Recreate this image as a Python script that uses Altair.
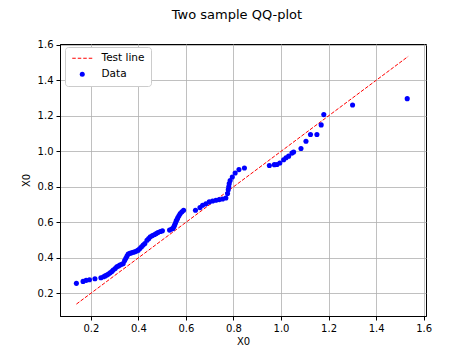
import altair as alt
import pandas as pd

x_vals = [0.139, 0.167, 0.180, 0.194, 0.217, 0.242, 0.253, 0.260, 0.267, 0.274,
          0.281, 0.288, 0.294, 0.302, 0.309, 0.316, 0.322, 0.330, 0.336, 0.342,
          0.347, 0.352, 0.357, 0.364, 0.371, 0.378, 0.385, 0.392, 0.399, 0.406,
          0.413, 0.420, 0.427, 0.436, 0.443, 0.450, 0.459, 0.468, 0.475, 0.482,
          0.492, 0.501, 0.531, 0.540, 0.545, 0.549, 0.552, 0.556, 0.559, 0.563,
          0.566, 0.571, 0.576, 0.583, 0.590, 0.640, 0.659, 0.670, 0.684, 0.698,
          0.712, 0.726, 0.740, 0.754, 0.768, 0.775, 0.778, 0.780, 0.782, 0.786,
          0.795, 0.807, 0.823, 0.846, 0.951, 0.972, 0.983, 0.995, 1.011, 1.021,
          1.032, 1.046, 1.053, 1.084, 1.105, 1.124, 1.151, 1.169, 1.180, 1.301,
          1.531]
y_vals = [0.256, 0.267, 0.273, 0.276, 0.282, 0.288, 0.293, 0.298, 0.303, 0.309,
          0.316, 0.323, 0.331, 0.340, 0.349, 0.354, 0.359, 0.364, 0.368, 0.385,
          0.397, 0.410, 0.421, 0.425, 0.428, 0.431, 0.434, 0.438, 0.443, 0.452,
          0.462, 0.472, 0.481, 0.499, 0.508, 0.518, 0.525, 0.531, 0.537, 0.543,
          0.548, 0.552, 0.556, 0.562, 0.565, 0.575, 0.584, 0.596, 0.608, 0.617,
          0.627, 0.638, 0.649, 0.659, 0.668, 0.668, 0.683, 0.696, 0.704, 0.715,
          0.720, 0.724, 0.728, 0.731, 0.737, 0.762, 0.784, 0.800, 0.818, 0.836,
          0.855, 0.878, 0.897, 0.906, 0.920, 0.925, 0.926, 0.934, 0.953, 0.964,
          0.973, 0.990, 0.996, 1.016, 1.057, 1.095, 1.095, 1.149, 1.207, 1.261,
          1.297]

line_x = [0.139, 1.535]
line_y = [0.139, 1.535]

ticks = [0.2, 0.4, 0.6, 0.8, 1.0, 1.2, 1.4, 1.6]
series_names = ["Test line", "Data"]

pts = pd.DataFrame({"x": x_vals, "y": y_vals, "series": "Data"})
ln = pd.DataFrame({"x": line_x, "y": line_y, "series": "Test line"})

dash_path = ("M-4,-0.2H-2.6V0.2H-4Z M-1.8,-0.2H-0.4V0.2H-1.8Z "
             "M0.4,-0.2H1.8V0.2H0.4Z M2.6,-0.2H4V0.2H2.6Z")

xs = alt.Scale(domain=[0.07, 1.61], nice=False, zero=False)
ys = alt.Scale(domain=[0.072, 1.605], nice=False, zero=False)

xax = alt.Axis(values=ticks, format=".1f", title="X0", grid=True, labelOverlap=False)
yax = alt.Axis(values=ticks, format=".1f", title="X0", grid=True, labelOverlap=False)

color_scale = alt.Scale(domain=series_names, range=["#ff0000", "#0000ff"])
shape_scale = alt.Scale(domain=series_names, range=[dash_path, "circle"])

legend = alt.Legend(
    title=None, orient="none", legendX=5, legendY=3,
    fillColor="white", strokeColor="#cccccc", cornerRadius=3, padding=6,
    labelFontSize=10.5, labelColor="black", symbolSize=25, labelOffset=14,
    rowPadding=5, symbolStrokeWidth=0, symbolOffset=6,
)

line = alt.Chart(ln).mark_line(strokeWidth=1, strokeDash=[3.7, 1.6]).encode(
    x=alt.X("x:Q", scale=xs, axis=xax),
    y=alt.Y("y:Q", scale=ys, axis=yax),
    color=alt.Color("series:N", scale=color_scale, legend=legend),
)

points = alt.Chart(pts).mark_point(filled=True, size=26, opacity=1).encode(
    x=alt.X("x:Q", scale=xs, axis=xax),
    y=alt.Y("y:Q", scale=ys, axis=yax),
    color=alt.Color("series:N", scale=color_scale, legend=legend),
    shape=alt.Shape("series:N", scale=shape_scale, legend=legend),
)

chart = alt.layer(line, points).properties(
    width=366, height=272,
    title=alt.TitleParams("Two sample QQ-plot", anchor="middle", dx=-6,
                          frame="group", offset=18, fontSize=13,
                          fontWeight="normal", font="DejaVu Sans", color="black"),
    autosize=alt.AutoSizeParams(type="none"),
    padding={"left": 52, "top": 36, "right": 40, "bottom": 31},
).configure_view(
    stroke="black", strokeWidth=1
).configure_axis(
    labelFont="DejaVu Sans", titleFont="DejaVu Sans", labelFontSize=10,
    titleFontSize=10, titleFontWeight="normal", labelColor="black",
    titleColor="black", domainColor="black", tickColor="black", tickSize=4,
    gridColor="#b0b0b0", gridWidth=0.8, labelPadding=3, labelOverlap=False,
).configure_axisX(titlePadding=3).configure_axisY(titlePadding=6).configure_legend(
    labelFont="DejaVu Sans"
)

chart.save("out.html", embed_options={"renderer": "svg", "actions": False})
